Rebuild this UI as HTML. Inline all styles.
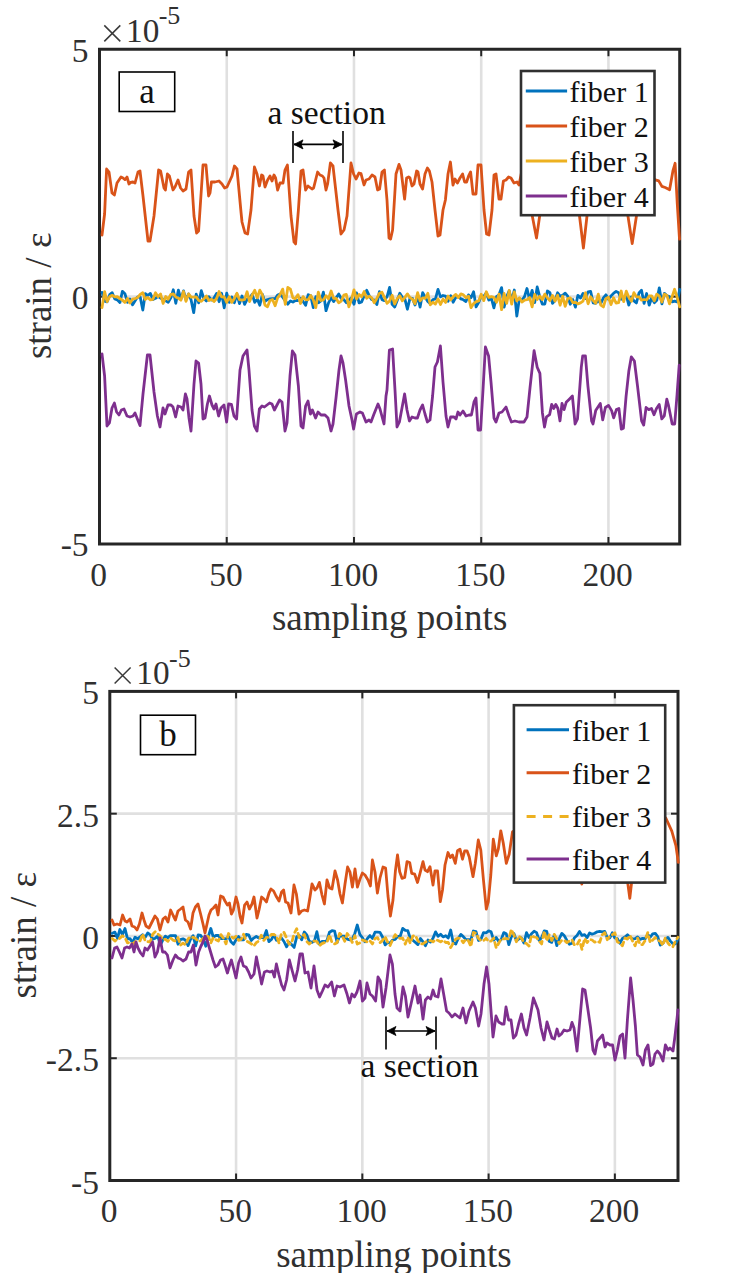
<!DOCTYPE html>
<html><head><meta charset="utf-8"><style>
html,body{margin:0;padding:0;background:#fff;width:750px;height:1273px;overflow:hidden}
svg{display:block}

text{font-family:"Liberation Serif",serif}
</style></head><body><div id="w">
<svg width="750" height="1273" viewBox="0 0 750 1273">
<rect width="750" height="1273" fill="#fff"/>
<line x1="226.74" y1="49.25" x2="226.74" y2="544.0" stroke="#e0e0e0" stroke-width="2.6"/>
<line x1="353.97" y1="49.25" x2="353.97" y2="544.0" stroke="#e0e0e0" stroke-width="2.6"/>
<line x1="481.21" y1="49.25" x2="481.21" y2="544.0" stroke="#e0e0e0" stroke-width="2.6"/>
<line x1="608.45" y1="49.25" x2="608.45" y2="544.0" stroke="#e0e0e0" stroke-width="2.6"/>
<line x1="99.5" y1="296.62" x2="679.7" y2="296.62" stroke="#e0e0e0" stroke-width="2.6"/>
<line x1="226.74" y1="544.0" x2="226.74" y2="537.0" stroke="#262626" stroke-width="2"/>
<line x1="226.74" y1="49.25" x2="226.74" y2="56.25" stroke="#262626" stroke-width="2"/>
<line x1="353.97" y1="544.0" x2="353.97" y2="537.0" stroke="#262626" stroke-width="2"/>
<line x1="353.97" y1="49.25" x2="353.97" y2="56.25" stroke="#262626" stroke-width="2"/>
<line x1="481.21" y1="544.0" x2="481.21" y2="537.0" stroke="#262626" stroke-width="2"/>
<line x1="481.21" y1="49.25" x2="481.21" y2="56.25" stroke="#262626" stroke-width="2"/>
<line x1="608.45" y1="544.0" x2="608.45" y2="537.0" stroke="#262626" stroke-width="2"/>
<line x1="608.45" y1="49.25" x2="608.45" y2="56.25" stroke="#262626" stroke-width="2"/>
<line x1="99.5" y1="296.62" x2="106.5" y2="296.62" stroke="#262626" stroke-width="2"/>
<line x1="679.7" y1="296.62" x2="672.7" y2="296.62" stroke="#262626" stroke-width="2"/>
<rect x="99.5" y="49.25" width="580.20" height="494.75" fill="none" stroke="#262626" stroke-width="3"/>
<polyline points="102.0,292.4 104.6,301.1 107.1,301.8 109.7,294.7 112.2,292.7 114.8,299.0 117.3,299.9 119.9,302.6 122.4,291.3 124.9,293.7 127.5,302.3 130.0,299.1 132.6,304.8 135.1,300.8 137.7,296.8 140.2,297.0 142.8,310.1 145.3,293.7 147.8,295.5 150.4,293.4 152.9,299.6 155.5,298.3 158.0,296.3 160.6,298.1 163.1,299.2 165.7,300.9 168.2,302.3 170.8,297.9 173.3,289.8 175.8,303.3 178.4,290.1 180.9,299.2 183.5,290.9 186.0,299.8 188.6,294.0 191.1,300.0 193.7,312.7 196.2,294.1 198.7,302.8 201.3,290.7 203.8,298.5 206.4,300.9 208.9,296.8 211.5,300.0 214.0,298.0 216.6,293.4 219.1,301.7 221.6,293.3 224.2,307.8 226.7,293.2 229.3,302.3 231.8,296.9 234.4,302.7 236.9,294.1 239.5,303.6 242.0,296.0 244.6,304.3 247.1,299.3 249.6,298.3 252.2,294.3 254.7,302.4 257.3,299.0 259.8,305.3 262.4,294.4 264.9,301.4 267.5,299.5 270.0,298.9 272.5,298.7 275.1,298.7 277.6,295.1 280.2,294.1 282.7,297.2 285.3,300.9 287.8,304.2 290.4,300.9 292.9,302.1 295.4,300.5 298.0,300.6 300.5,298.2 303.1,301.5 305.6,305.3 308.2,294.7 310.7,295.6 313.3,307.6 315.8,296.7 318.3,302.8 320.9,300.8 323.4,292.1 326.0,310.7 328.5,303.0 331.1,297.6 333.6,301.6 336.2,297.7 338.7,294.0 341.2,298.5 343.8,299.6 346.3,302.7 348.9,300.1 351.4,297.8 354.0,304.3 356.5,292.9 359.1,302.9 361.6,301.9 364.2,295.7 366.7,290.3 369.2,295.7 371.8,299.7 374.3,300.0 376.9,304.6 379.4,291.7 382.0,299.6 384.5,300.6 387.1,296.6 389.6,287.4 392.1,304.3 394.7,307.0 397.2,300.4 399.8,293.2 402.3,297.3 404.9,299.2 407.4,309.2 410.0,298.1 412.5,298.5 415.0,305.0 417.6,295.9 420.1,307.1 422.7,292.6 425.2,297.2 427.8,301.5 430.3,303.7 432.9,299.6 435.4,299.0 438.0,289.4 440.5,296.9 443.0,295.5 445.6,296.2 448.1,301.2 450.7,295.7 453.2,302.2 455.8,297.3 458.3,296.6 460.9,298.9 463.4,299.8 465.9,301.5 468.5,294.9 471.0,297.7 473.6,291.8 476.1,306.9 478.7,302.4 481.2,296.1 483.8,296.3 486.3,292.7 488.8,300.1 491.4,298.4 493.9,307.9 496.5,296.7 499.0,294.8 501.6,287.6 504.1,307.1 506.7,296.6 509.2,290.9 511.7,300.6 514.3,290.0 516.8,316.0 519.4,298.6 521.9,300.5 524.5,296.6 527.0,288.5 529.6,299.8 532.1,290.4 534.7,302.6 537.2,287.0 539.7,296.6 542.3,304.0 544.8,304.1 547.4,291.0 549.9,292.7 552.5,303.4 555.0,300.6 557.6,292.8 560.1,296.1 562.6,295.3 565.2,293.2 567.7,296.1 570.3,304.2 572.8,299.6 575.4,307.1 577.9,295.3 580.5,298.0 583.0,293.5 585.5,298.6 588.1,291.8 590.6,291.4 593.2,302.9 595.7,303.4 598.3,300.5 600.8,303.5 603.4,297.8 605.9,294.8 608.4,299.2 611.0,296.0 613.5,293.4 616.1,291.4 618.6,292.8 621.2,299.3 623.7,298.4 626.3,295.7 628.8,305.1 631.4,297.0 633.9,300.9 636.4,302.9 639.0,293.0 641.5,290.2 644.1,303.4 646.6,293.5 649.2,305.2 651.7,297.8 654.3,302.7 656.8,300.3 659.3,287.8 661.9,303.8 664.4,293.4 667.0,295.7 669.5,296.6 672.1,301.9 674.6,301.1 677.2,301.9 679.7,289.4" fill="none" stroke="#0072BD" stroke-width="2.8" stroke-linejoin="round" stroke-linecap="round"/>
<polyline points="102.0,307.6 104.6,291.6 107.1,301.6 109.7,296.6 112.2,295.3 114.8,296.9 117.3,296.7 119.9,298.5 122.4,300.1 124.9,302.4 127.5,298.4 130.0,303.1 132.6,299.1 135.1,298.6 137.7,297.4 140.2,294.5 142.8,292.7 145.3,299.4 147.8,297.4 150.4,299.9 152.9,299.3 155.5,292.8 158.0,296.7 160.6,294.0 163.1,303.5 165.7,296.5 168.2,299.2 170.8,294.3 173.3,294.0 175.8,296.9 178.4,298.2 180.9,300.2 183.5,291.5 186.0,301.3 188.6,293.9 191.1,297.2 193.7,297.2 196.2,296.8 198.7,300.5 201.3,301.3 203.8,298.9 206.4,295.9 208.9,300.6 211.5,299.2 214.0,301.6 216.6,298.5 219.1,291.5 221.6,296.8 224.2,297.0 226.7,302.4 229.3,296.7 231.8,302.4 234.4,298.4 236.9,293.3 239.5,299.7 242.0,300.2 244.6,299.5 247.1,291.8 249.6,301.6 252.2,295.0 254.7,290.3 257.3,297.9 259.8,290.2 262.4,295.0 264.9,305.0 267.5,306.8 270.0,300.5 272.5,299.5 275.1,305.8 277.6,297.8 280.2,294.3 282.7,289.1 285.3,304.3 287.8,287.4 290.4,289.1 292.9,297.8 295.4,298.6 298.0,294.6 300.5,303.5 303.1,296.6 305.6,299.6 308.2,299.8 310.7,295.5 313.3,299.9 315.8,307.6 318.3,292.1 320.9,300.5 323.4,299.9 326.0,295.6 328.5,298.8 331.1,291.0 333.6,298.3 336.2,298.5 338.7,302.9 341.2,301.1 343.8,295.2 346.3,294.4 348.9,306.9 351.4,299.9 354.0,289.9 356.5,299.0 359.1,294.4 361.6,296.8 364.2,291.5 366.7,298.3 369.2,296.2 371.8,297.9 374.3,302.8 376.9,298.2 379.4,293.3 382.0,292.3 384.5,297.6 387.1,303.3 389.6,301.0 392.1,295.2 394.7,304.0 397.2,298.7 399.8,295.7 402.3,300.8 404.9,297.4 407.4,293.9 410.0,297.7 412.5,299.2 415.0,303.7 417.6,292.7 420.1,300.8 422.7,297.9 425.2,298.3 427.8,293.3 430.3,304.9 432.9,302.2 435.4,304.1 438.0,298.9 440.5,304.5 443.0,299.1 445.6,302.4 448.1,296.0 450.7,299.9 453.2,296.6 455.8,294.4 458.3,297.6 460.9,293.9 463.4,294.8 465.9,297.7 468.5,296.1 471.0,307.7 473.6,303.6 476.1,301.7 478.7,300.9 481.2,294.2 483.8,300.6 486.3,291.8 488.8,297.4 491.4,296.6 493.9,297.3 496.5,302.3 499.0,294.1 501.6,309.7 504.1,293.5 506.7,303.3 509.2,290.5 511.7,304.2 514.3,291.8 516.8,300.9 519.4,297.8 521.9,302.1 524.5,300.1 527.0,299.7 529.6,297.5 532.1,306.9 534.7,294.4 537.2,299.5 539.7,296.2 542.3,299.6 544.8,294.1 547.4,297.8 549.9,300.7 552.5,295.4 555.0,301.1 557.6,295.3 560.1,305.2 562.6,296.2 565.2,306.4 567.7,298.5 570.3,297.9 572.8,302.6 575.4,302.3 577.9,303.9 580.5,302.9 583.0,301.1 585.5,292.8 588.1,303.8 590.6,296.7 593.2,300.6 595.7,303.3 598.3,294.2 600.8,305.1 603.4,306.9 605.9,298.7 608.4,297.1 611.0,304.6 613.5,297.7 616.1,303.1 618.6,302.6 621.2,291.0 623.7,301.7 626.3,291.2 628.8,297.3 631.4,301.3 633.9,292.7 636.4,296.8 639.0,296.9 641.5,300.1 644.1,299.5 646.6,300.0 649.2,295.9 651.7,295.9 654.3,300.8 656.8,294.1 659.3,296.0 661.9,302.0 664.4,294.2 667.0,295.6 669.5,303.9 672.1,296.8 674.6,289.3 677.2,297.5 679.7,306.9" fill="none" stroke="#EDB120" stroke-width="2.8" stroke-linejoin="round" stroke-linecap="round"/>
<polyline points="102.0,235.0 104.6,214.0 106.6,169.0 109.0,172.0 112.0,193.0 114.4,195.0 117.0,183.0 119.0,180.0 121.0,177.0 123.0,178.0 125.0,179.6 127.0,177.0 129.0,184.0 130.6,182.4 133.0,182.0 135.0,183.0 138.0,172.0 140.0,171.0 143.0,196.0 148.0,241.0 150.0,241.0 154.0,216.0 158.6,170.0 160.6,171.0 164.0,188.0 165.4,190.0 167.4,174.0 169.4,176.0 173.0,190.0 175.0,187.0 178.0,180.0 180.6,188.0 183.0,191.0 186.0,189.0 188.6,172.0 191.0,170.0 194.0,216.0 196.6,233.0 198.6,231.0 203.0,165.0 206.0,165.0 208.6,196.0 210.0,193.0 211.4,182.0 215.0,182.0 219.0,181.0 222.0,184.0 224.6,188.0 227.0,187.0 232.0,176.0 234.4,166.0 237.0,169.0 241.0,212.0 242.0,222.0 245.0,233.0 247.6,234.0 251.0,210.0 254.4,167.0 257.0,174.0 259.4,186.0 261.6,175.0 263.0,176.0 265.0,187.0 267.6,180.0 270.0,176.0 272.0,181.0 274.0,175.0 275.6,178.0 277.6,190.0 280.0,183.0 283.0,183.0 285.0,170.0 287.4,165.0 291.0,216.0 294.0,242.0 295.6,244.0 298.4,210.0 301.0,171.0 303.0,170.0 305.6,190.0 308.0,186.0 312.0,189.0 313.6,188.0 317.6,172.0 320.0,175.0 322.4,176.0 324.0,178.0 326.0,190.0 327.6,184.0 330.4,163.0 333.0,166.0 338.0,210.0 341.0,234.0 344.0,230.0 347.0,216.0 351.0,163.0 353.6,174.0 356.0,179.0 359.0,173.0 361.0,173.6 364.0,185.0 366.0,180.0 369.0,179.0 372.0,175.0 375.0,177.0 377.6,190.0 379.6,189.0 382.0,172.0 384.4,170.0 387.0,200.0 389.0,238.0 390.6,239.0 392.6,230.0 396.0,174.0 399.0,164.4 401.0,170.0 404.6,199.0 406.6,178.0 408.6,177.0 410.0,178.0 412.0,186.0 414.0,184.0 416.6,171.0 418.0,172.0 420.0,184.0 422.6,189.0 425.0,174.0 427.4,168.0 429.4,171.0 432.0,182.0 435.0,210.0 438.0,236.0 440.0,235.0 443.0,210.0 445.4,200.0 448.0,174.0 450.4,162.0 453.0,185.0 455.0,179.0 457.4,183.0 460.0,178.0 462.6,174.0 464.6,182.0 466.6,182.0 468.6,176.0 470.6,172.0 473.0,194.0 476.0,194.0 478.0,165.0 481.0,165.0 484.0,210.0 486.6,234.0 489.0,235.0 492.0,210.0 494.0,175.0 496.0,174.0 499.0,199.0 501.0,199.0 503.4,181.0 506.0,180.0 508.6,177.0 511.0,178.0 514.0,183.0 517.0,182.0 519.0,185.0 524.0,160.0 528.0,170.0 532.1,215.0 536.5,238.1 539.8,215.0 545.0,165.0 552.0,160.0 560.0,168.0 568.0,158.0 575.0,165.0 579.4,215.0 583.4,248.0 587.1,215.0 592.0,165.0 600.0,160.0 608.0,168.0 616.0,160.0 623.0,165.0 627.8,215.0 632.2,243.6 636.6,215.0 642.0,170.0 648.0,175.0 655.3,179.8 658.7,180.9 661.9,186.4 665.2,187.5 669.6,189.7 672.9,171.0 675.1,163.3 677.3,204.0 679.5,239.2" fill="none" stroke="#D95319" stroke-width="2.8" stroke-linejoin="round" stroke-linecap="round"/>
<polyline points="102.0,354.0 104.6,376.0 107.0,426.0 109.4,423.0 112.0,408.0 114.4,403.0 116.6,412.0 119.0,415.0 121.4,410.0 124.0,409.0 127.0,416.0 130.0,417.0 133.0,416.0 135.0,413.0 137.4,419.0 140.0,425.6 143.0,394.0 147.4,355.0 150.0,355.0 154.0,392.0 157.4,416.0 160.0,427.0 163.0,408.0 165.0,414.0 168.0,405.0 171.0,405.0 173.0,407.0 175.6,417.0 178.0,406.0 181.0,407.0 183.0,410.0 185.4,394.0 187.0,399.0 189.0,418.0 191.0,431.0 194.0,384.0 196.0,361.0 198.6,363.0 201.0,384.0 203.0,419.0 205.0,418.0 207.4,404.0 209.4,396.0 212.0,405.0 214.0,409.0 216.0,404.0 218.6,416.0 221.0,408.0 224.0,405.0 226.6,422.0 228.6,404.0 231.4,404.4 234.0,416.0 236.6,419.0 240.0,370.0 243.0,356.0 247.0,350.0 249.0,370.0 252.0,410.0 254.4,426.0 257.0,431.0 259.4,409.0 262.0,406.0 264.4,407.0 267.0,405.0 269.6,403.0 272.0,404.0 274.4,410.0 277.0,405.0 279.6,400.0 282.0,402.0 285.0,431.0 287.0,423.0 290.0,376.0 292.4,351.0 295.0,355.0 298.4,386.0 301.0,426.0 303.0,428.0 305.6,406.0 308.0,401.0 310.4,414.0 312.4,410.0 315.6,418.0 318.0,412.0 321.0,415.0 325.0,415.0 328.0,418.0 331.0,431.0 333.0,424.0 336.0,398.0 339.0,370.0 341.0,356.0 343.0,363.0 345.6,380.0 349.0,406.0 352.0,420.0 353.6,429.0 356.4,414.0 360.0,412.0 362.4,413.0 366.0,422.0 369.0,420.0 371.0,422.0 374.0,414.0 378.0,404.0 380.0,409.0 384.0,424.0 386.0,396.0 387.0,390.0 389.4,350.0 392.6,349.0 395.0,390.0 397.0,427.0 399.4,422.0 402.0,408.0 404.6,394.0 407.0,410.0 409.4,421.0 412.0,417.0 415.0,418.0 417.4,418.0 420.0,410.0 422.6,405.0 425.0,414.0 427.4,422.0 430.0,420.0 432.6,396.0 435.0,367.0 437.4,362.0 440.4,346.0 443.0,382.0 446.0,416.0 448.0,427.0 450.6,417.0 454.0,417.0 456.0,419.0 458.0,412.0 460.0,415.0 463.0,411.0 466.0,416.0 469.0,415.0 471.4,415.0 474.0,402.0 476.0,398.0 478.0,430.0 480.6,430.0 483.0,390.0 485.4,347.0 488.6,356.0 491.0,382.0 494.0,418.0 496.0,422.0 499.0,413.0 502.0,412.0 506.0,407.0 509.0,416.0 511.4,422.0 515.0,421.0 519.0,422.0 524.0,422.0 527.0,417.0 530.0,387.9 534.1,350.7 537.2,367.2 539.9,373.4 542.4,412.7 544.5,427.1 546.5,416.8 549.6,414.7 551.7,404.4 553.8,408.5 555.8,404.4 557.9,408.5 560.0,420.9 562.0,403.4 564.1,409.6 566.2,402.3 569.3,399.2 572.4,396.1 575.1,424.0 577.5,418.9 581.3,367.2 582.7,355.8 585.4,355.8 587.9,385.8 591.6,420.9 593.0,424.0 595.7,410.6 600.3,403.4 602.7,419.9 605.4,407.5 608.5,405.4 611.6,410.6 613.7,417.8 616.4,409.6 618.9,408.5 621.3,429.2 623.4,428.2 626.1,396.1 628.8,371.3 631.3,356.9 634.4,361.0 637.5,385.8 641.6,420.9 643.7,425.1 646.1,407.5 648.8,409.6 651.5,408.5 654.0,414.7 656.5,408.5 659.2,404.4 661.8,418.9 664.3,415.8 666.8,399.2 668.5,405.4 672.2,424.0 674.7,424.0 677.1,394.1 679.2,365.1" fill="none" stroke="#7E2F8E" stroke-width="2.8" stroke-linejoin="round" stroke-linecap="round"/>
<line x1="236.07" y1="691.4" x2="236.07" y2="1180.5" stroke="#e0e0e0" stroke-width="2.6"/>
<line x1="362.33" y1="691.4" x2="362.33" y2="1180.5" stroke="#e0e0e0" stroke-width="2.6"/>
<line x1="488.60" y1="691.4" x2="488.60" y2="1180.5" stroke="#e0e0e0" stroke-width="2.6"/>
<line x1="614.87" y1="691.4" x2="614.87" y2="1180.5" stroke="#e0e0e0" stroke-width="2.6"/>
<line x1="109.8" y1="1058.22" x2="678.0" y2="1058.22" stroke="#e0e0e0" stroke-width="2.6"/>
<line x1="109.8" y1="935.95" x2="678.0" y2="935.95" stroke="#e0e0e0" stroke-width="2.6"/>
<line x1="109.8" y1="813.67" x2="678.0" y2="813.67" stroke="#e0e0e0" stroke-width="2.6"/>
<line x1="236.07" y1="1180.5" x2="236.07" y2="1173.5" stroke="#262626" stroke-width="2"/>
<line x1="236.07" y1="691.4" x2="236.07" y2="698.4" stroke="#262626" stroke-width="2"/>
<line x1="362.33" y1="1180.5" x2="362.33" y2="1173.5" stroke="#262626" stroke-width="2"/>
<line x1="362.33" y1="691.4" x2="362.33" y2="698.4" stroke="#262626" stroke-width="2"/>
<line x1="488.60" y1="1180.5" x2="488.60" y2="1173.5" stroke="#262626" stroke-width="2"/>
<line x1="488.60" y1="691.4" x2="488.60" y2="698.4" stroke="#262626" stroke-width="2"/>
<line x1="614.87" y1="1180.5" x2="614.87" y2="1173.5" stroke="#262626" stroke-width="2"/>
<line x1="614.87" y1="691.4" x2="614.87" y2="698.4" stroke="#262626" stroke-width="2"/>
<line x1="109.8" y1="1058.22" x2="116.8" y2="1058.22" stroke="#262626" stroke-width="2"/>
<line x1="678.0" y1="1058.22" x2="671.0" y2="1058.22" stroke="#262626" stroke-width="2"/>
<line x1="109.8" y1="935.95" x2="116.8" y2="935.95" stroke="#262626" stroke-width="2"/>
<line x1="678.0" y1="935.95" x2="671.0" y2="935.95" stroke="#262626" stroke-width="2"/>
<line x1="109.8" y1="813.67" x2="116.8" y2="813.67" stroke="#262626" stroke-width="2"/>
<line x1="678.0" y1="813.67" x2="671.0" y2="813.67" stroke="#262626" stroke-width="2"/>
<rect x="109.8" y="691.4" width="568.20" height="489.10" fill="none" stroke="#262626" stroke-width="3"/>
<polyline points="112.3,933.3 114.9,932.1 117.4,938.3 119.9,929.5 122.4,934.6 125.0,928.5 127.5,938.8 130.0,938.6 132.5,942.7 135.1,937.2 137.6,938.9 140.1,936.9 142.6,934.7 145.2,937.2 147.7,932.9 150.2,934.8 152.7,939.2 155.3,938.2 157.8,936.2 160.3,945.0 162.8,940.0 165.4,936.1 167.9,937.7 170.4,935.7 172.9,935.6 175.5,935.7 178.0,944.2 180.5,939.6 183.0,938.8 185.6,940.3 188.1,945.6 190.6,939.1 193.1,935.7 195.7,945.9 198.2,934.8 200.7,935.4 203.2,939.3 205.8,946.2 208.3,936.7 210.8,928.5 213.3,937.2 215.9,935.5 218.4,935.5 220.9,938.6 223.4,938.6 226.0,938.9 228.5,936.4 231.0,941.8 233.5,944.2 236.1,939.6 238.6,936.5 241.1,939.8 243.6,939.9 246.2,934.5 248.7,934.9 251.2,940.5 253.7,938.1 256.3,936.5 258.8,938.0 261.3,937.5 263.8,937.5 266.4,930.5 268.9,941.7 271.4,939.5 273.9,934.9 276.5,940.3 279.0,939.4 281.5,938.1 284.0,941.5 286.6,946.8 289.1,942.3 291.6,944.6 294.1,947.4 296.7,936.8 299.2,935.4 301.7,939.7 304.3,932.0 306.8,934.9 309.3,941.4 311.8,942.4 314.4,941.1 316.9,931.7 319.4,944.2 321.9,941.5 324.5,941.5 327.0,940.5 329.5,932.2 332.0,930.7 334.6,931.1 337.1,942.5 339.6,936.0 342.1,936.2 344.7,936.2 347.2,939.2 349.7,939.8 352.2,939.2 354.8,933.5 357.3,925.0 359.8,934.3 362.3,937.5 364.9,941.9 367.4,938.5 369.9,935.6 372.4,938.4 375.0,932.2 377.5,932.2 380.0,932.3 382.5,937.0 385.1,944.9 387.6,942.5 390.1,943.1 392.6,940.0 395.2,939.3 397.7,936.4 400.2,936.2 402.7,928.4 405.3,930.4 407.8,930.7 410.3,938.5 412.8,940.2 415.4,942.4 417.9,944.6 420.4,938.5 422.9,941.6 425.5,945.8 428.0,940.0 430.5,942.1 433.0,938.3 435.6,931.9 438.1,936.3 440.6,934.2 443.1,936.9 445.7,935.7 448.2,938.1 450.7,930.0 453.2,942.7 455.8,944.0 458.3,938.2 460.8,934.4 463.3,936.6 465.9,939.7 468.4,939.7 470.9,939.6 473.4,931.0 476.0,931.5 478.5,940.5 481.0,939.3 483.5,932.6 486.1,932.9 488.6,930.9 491.1,931.8 493.7,940.1 496.2,937.5 498.7,941.6 501.2,939.4 503.8,932.6 506.3,933.7 508.8,944.7 511.3,936.9 513.9,933.5 516.4,940.8 518.9,938.8 521.4,937.9 524.0,943.0 526.5,932.7 529.0,937.6 531.5,933.7 534.1,931.2 536.6,932.6 539.1,940.3 541.6,937.8 544.2,930.9 546.7,931.4 549.2,941.3 551.7,942.4 554.3,935.0 556.8,945.7 559.3,938.6 561.8,933.4 564.4,935.8 566.9,940.4 569.4,944.3 571.9,943.3 574.5,937.7 577.0,935.5 579.5,931.5 582.0,935.4 584.6,934.7 587.1,937.6 589.6,932.9 592.1,934.2 594.7,933.3 597.2,931.8 599.7,931.4 602.2,931.9 604.8,931.5 607.3,937.8 609.8,938.0 612.3,932.8 614.9,938.0 617.4,938.7 619.9,943.2 622.4,938.5 625.0,937.0 627.5,934.8 630.0,937.2 632.5,939.2 635.1,938.7 637.6,936.9 640.1,939.4 642.6,938.4 645.2,938.7 647.7,934.4 650.2,937.3 652.7,933.8 655.3,933.3 657.8,936.8 660.3,945.1 662.8,943.4 665.4,939.3 667.9,937.4 670.4,941.1 672.9,943.7 675.5,943.8 678.0,938.7" fill="none" stroke="#0072BD" stroke-width="2.8" stroke-linejoin="round" stroke-linecap="round"/>
<polyline points="112.3,938.6 114.9,941.1 117.4,939.2 119.9,938.3 122.4,935.8 125.0,937.6 127.5,942.9 130.0,942.1 132.5,944.0 135.1,941.7 137.6,941.6 140.1,940.8 142.6,933.9 145.2,940.9 147.7,941.7 150.2,942.0 152.7,934.2 155.3,931.6 157.8,933.9 160.3,936.1 162.8,939.6 165.4,939.4 167.9,941.3 170.4,937.7 172.9,940.1 175.5,941.1 178.0,937.6 180.5,945.1 183.0,943.2 185.6,944.9 188.1,938.9 190.6,936.7 193.1,937.4 195.7,938.5 198.2,941.5 200.7,941.0 203.2,938.3 205.8,935.7 208.3,936.5 210.8,943.0 213.3,937.6 215.9,939.8 218.4,941.1 220.9,934.6 223.4,938.2 226.0,943.8 228.5,933.5 231.0,936.6 233.5,938.2 236.1,936.2 238.6,940.3 241.1,939.5 243.6,934.2 246.2,940.9 248.7,942.3 251.2,943.8 253.7,946.0 256.3,942.7 258.8,940.9 261.3,935.2 263.8,940.4 266.4,937.6 268.9,937.3 271.4,934.3 273.9,934.5 276.5,936.1 279.0,943.1 281.5,933.3 284.0,932.4 286.6,938.2 289.1,944.3 291.6,943.0 294.1,933.7 296.7,928.7 299.2,937.5 301.7,936.3 304.3,934.5 306.8,941.5 309.3,944.1 311.8,941.4 314.4,941.0 316.9,941.5 319.4,945.8 321.9,943.6 324.5,942.6 327.0,942.4 329.5,934.7 332.0,942.7 334.6,943.9 337.1,942.7 339.6,933.4 342.1,935.4 344.7,941.3 347.2,933.5 349.7,937.0 352.2,942.4 354.8,935.7 357.3,944.1 359.8,942.9 362.3,940.0 364.9,940.8 367.4,942.2 369.9,940.8 372.4,944.0 375.0,938.5 377.5,937.7 380.0,942.7 382.5,940.6 385.1,936.6 387.6,942.1 390.1,945.5 392.6,939.7 395.2,934.6 397.7,937.5 400.2,938.4 402.7,938.1 405.3,944.1 407.8,937.2 410.3,943.3 412.8,936.1 415.4,935.6 417.9,940.6 420.4,943.9 422.9,943.9 425.5,942.1 428.0,940.8 430.5,940.4 433.0,941.9 435.6,939.6 438.1,940.5 440.6,941.9 443.1,940.2 445.7,942.5 448.2,942.4 450.7,947.6 453.2,943.1 455.8,939.0 458.3,938.0 460.8,939.0 463.3,942.7 465.9,939.2 468.4,940.8 470.9,946.5 473.4,932.4 476.0,933.3 478.5,938.5 481.0,940.6 483.5,940.7 486.1,938.3 488.6,941.5 491.1,941.1 493.7,938.1 496.2,947.8 498.7,943.3 501.2,938.6 503.8,938.9 506.3,938.5 508.8,939.0 511.3,929.5 513.9,934.8 516.4,941.7 518.9,936.0 521.4,938.2 524.0,942.5 526.5,943.5 529.0,946.1 531.5,935.3 534.1,937.0 536.6,937.5 539.1,941.1 541.6,943.9 544.2,931.2 546.7,940.9 549.2,934.7 551.7,940.5 554.3,934.4 556.8,938.6 559.3,943.5 561.8,940.2 564.4,940.4 566.9,942.6 569.4,940.9 571.9,939.6 574.5,945.1 577.0,944.9 579.5,940.1 582.0,949.6 584.6,938.4 587.1,942.5 589.6,939.4 592.1,940.0 594.7,942.2 597.2,941.1 599.7,942.3 602.2,934.8 604.8,932.7 607.3,939.7 609.8,936.1 612.3,934.8 614.9,932.8 617.4,942.0 619.9,943.0 622.4,945.8 625.0,938.0 627.5,939.1 630.0,935.3 632.5,941.0 635.1,945.7 637.6,938.1 640.1,944.7 642.6,944.6 645.2,940.4 647.7,932.7 650.2,942.5 652.7,940.1 655.3,937.5 657.8,940.3 660.3,941.2 662.8,945.4 665.4,937.6 667.9,943.0 670.4,945.9 672.9,946.7 675.5,941.0 678.0,937.3" fill="none" stroke="#EDB120" stroke-width="2.8" stroke-linejoin="round" stroke-linecap="round" stroke-dasharray="5,4"/>
<polyline points="112.0,920.0 114.0,925.0 117.0,924.0 120.0,925.0 122.6,915.0 125.0,921.0 127.0,922.0 130.0,919.0 132.0,926.0 134.6,927.0 137.0,930.0 139.4,924.0 142.0,913.0 144.0,920.0 146.0,926.0 149.0,928.0 152.0,922.0 155.0,916.0 157.4,919.0 160.0,930.0 163.0,919.0 165.4,917.0 168.0,922.0 170.6,910.0 173.4,916.0 175.4,920.0 178.0,911.0 180.6,909.0 183.0,907.0 185.4,920.0 188.0,922.0 190.6,929.0 193.0,913.0 195.4,907.0 198.0,904.0 200.6,914.0 203.0,924.0 205.0,933.0 207.0,924.0 209.0,915.0 211.0,910.0 213.4,908.0 216.0,905.0 218.0,915.0 220.6,896.0 223.0,897.0 225.0,901.0 227.4,905.0 229.4,903.0 231.4,914.0 233.4,910.0 236.0,897.0 238.0,904.0 240.0,916.0 242.0,923.0 244.6,905.0 247.0,902.0 249.4,909.0 252.0,904.0 254.0,897.0 257.0,918.0 259.0,910.0 261.6,897.0 264.0,899.0 266.4,902.0 269.0,893.0 271.0,889.0 273.6,891.0 276.0,896.0 279.0,901.0 281.6,892.0 283.6,890.0 285.6,902.0 288.0,903.0 291.0,913.0 294.0,885.0 296.4,894.0 299.0,914.0 301.6,911.0 304.4,910.0 307.6,911.0 310.0,897.0 312.0,884.0 315.0,890.0 317.0,888.0 319.4,882.4 322.0,895.0 324.4,904.0 327.0,880.0 329.6,888.0 332.0,889.0 335.0,871.0 337.6,880.0 340.0,894.0 342.4,903.0 345.0,884.0 347.6,867.0 350.0,872.0 352.4,887.0 355.0,869.0 357.4,887.0 360.0,879.0 362.4,873.0 365.0,875.0 368.0,880.0 370.4,886.0 372.4,860.0 375.0,872.0 377.4,893.0 380.0,878.0 383.0,867.0 385.6,868.0 388.0,896.0 390.4,916.0 393.0,900.0 395.4,871.0 397.5,855.0 399.7,871.7 402.0,878.3 404.7,877.5 407.0,861.7 409.7,862.5 411.7,873.3 414.7,874.2 417.5,882.5 420.0,873.3 423.0,861.7 425.0,870.0 427.5,871.7 430.0,866.7 433.0,885.0 435.0,870.8 437.5,870.8 440.3,901.7 442.5,890.0 445.0,865.0 448.0,852.5 450.3,857.5 452.5,855.0 455.3,863.3 457.5,850.8 460.0,849.2 462.5,859.2 464.7,850.8 467.0,850.8 469.2,856.7 473.0,876.7 475.3,863.3 478.3,840.0 480.8,850.0 483.3,878.3 486.3,909.2 488.3,901.7 490.8,875.0 493.3,839.2 496.3,855.8 498.3,849.2 500.8,830.8 503.3,843.3 506.3,863.3 509.2,854.2 512.5,831.7 520.0,828.0 526.0,840.0 532.0,850.0 540.0,835.0 548.0,845.0 556.0,830.0 564.0,850.0 572.0,840.0 578.0,862.0 581.8,884.0 585.0,862.0 592.0,845.0 600.0,838.0 608.0,845.0 615.0,835.0 622.0,850.0 626.0,870.0 629.8,898.4 633.0,870.0 638.0,845.0 645.0,830.0 652.0,840.0 660.0,822.0 665.8,818.0 671.8,831.2 675.9,845.6 678.3,862.4" fill="none" stroke="#D95319" stroke-width="2.8" stroke-linejoin="round" stroke-linecap="round"/>
<polyline points="112.0,958.0 114.6,948.0 117.0,947.0 119.4,952.0 122.0,958.0 124.6,948.0 127.0,947.0 129.4,948.0 132.0,944.0 134.0,952.0 136.0,942.0 138.0,948.0 140.6,953.0 143.0,956.0 145.0,948.0 147.4,950.0 150.0,946.0 152.6,942.0 155.0,957.0 157.4,952.0 160.0,938.0 162.6,952.0 165.0,952.0 167.4,955.0 170.0,968.0 173.0,960.0 175.4,955.0 178.0,958.0 180.6,959.0 183.0,961.0 186.0,959.0 188.6,952.0 191.0,952.0 193.4,945.0 196.0,965.0 198.6,952.0 201.0,946.0 203.0,942.0 205.0,936.0 207.0,940.0 210.0,950.0 213.0,960.0 215.4,967.0 218.0,965.0 220.6,960.0 223.0,959.0 225.0,965.0 227.4,973.0 229.4,966.0 231.4,960.0 234.0,970.0 236.0,978.0 238.6,963.0 241.0,957.0 243.4,966.0 246.0,967.0 248.6,972.0 251.0,978.0 254.0,974.0 256.4,957.0 259.0,970.0 261.6,984.0 264.4,972.0 267.0,971.0 270.0,972.0 272.4,971.0 274.4,977.0 276.4,964.0 279.0,975.0 281.6,985.0 284.0,990.0 286.6,980.0 289.4,960.0 292.0,970.0 295.0,981.0 297.6,970.0 300.0,954.0 302.4,954.0 305.0,973.0 308.0,972.0 311.0,988.0 314.0,966.0 317.0,990.0 319.6,997.0 322.4,991.0 325.0,985.0 328.0,987.0 331.6,982.0 334.4,996.0 337.0,986.0 340.0,987.0 344.0,985.0 347.0,994.0 349.4,1003.0 352.0,994.0 354.4,997.0 357.0,992.0 360.0,981.0 362.4,1001.0 365.0,998.0 367.0,983.0 370.0,994.0 372.4,996.0 375.6,1001.0 378.0,977.0 380.4,981.0 383.0,1007.0 386.0,988.0 390.0,955.0 392.4,964.0 395.0,994.0 397.0,1008.0 400.0,1011.0 403.0,987.0 405.4,996.0 408.0,1017.0 411.0,1004.0 415.0,986.0 418.0,1003.0 420.0,995.0 423.0,1019.0 425.4,1000.0 428.0,997.0 430.6,999.0 433.0,990.0 435.0,996.0 438.0,997.0 441.0,979.0 444.0,996.0 446.6,1011.0 449.0,1013.0 452.0,1017.0 455.0,1014.0 457.4,1016.0 460.0,1018.0 463.0,1008.0 466.0,1023.0 469.0,1011.0 473.0,1002.0 475.4,1008.0 478.6,1026.0 481.0,1014.0 484.0,984.0 486.6,967.0 489.0,984.0 493.0,1037.0 496.0,1016.0 498.6,1022.0 502.0,1024.0 504.0,1024.0 506.0,1007.0 508.6,1020.0 511.0,1020.0 513.4,1038.0 516.0,1035.0 518.6,1024.0 521.4,1014.0 524.0,1028.0 526.6,1035.0 530.0,1018.0 533.4,998.0 538.0,1010.0 541.0,1028.0 544.0,1040.0 547.0,1022.0 549.4,1030.0 552.0,1038.0 554.4,1039.0 557.0,1029.0 559.0,1036.0 561.4,1034.0 564.0,1030.0 567.0,1031.0 570.0,1030.0 572.0,1022.4 574.0,1028.0 577.0,1051.0 580.0,1018.0 582.6,989.0 585.0,990.0 587.4,1006.0 590.6,1028.0 593.0,1050.0 595.0,1054.0 597.4,1041.0 600.0,1038.0 602.6,1035.0 605.0,1047.0 607.0,1043.0 610.0,1045.0 612.6,1045.0 615.0,1060.0 617.4,1050.0 620.0,1036.0 622.6,1034.0 625.0,1058.0 627.4,1020.0 630.6,978.0 633.0,1000.0 635.4,1026.0 637.4,1055.0 640.0,1057.0 643.0,1065.0 645.4,1050.0 648.0,1045.0 650.6,1065.6 653.0,1064.0 655.0,1054.0 657.4,1051.0 660.0,1054.0 663.0,1061.0 665.4,1045.0 668.0,1050.0 670.0,1048.0 673.0,1051.0 675.0,1036.0 678.0,1010.0" fill="none" stroke="#7E2F8E" stroke-width="2.8" stroke-linejoin="round" stroke-linecap="round"/>
<text x="88.60" y="556.40" font-size="33.5" text-anchor="end" fill="#303030">-5</text>
<text x="88.60" y="309.02" font-size="33.5" text-anchor="end" fill="#303030">0</text>
<text x="88.60" y="61.65" font-size="33.5" text-anchor="end" fill="#303030">5</text>
<text x="98.70" y="585.80" font-size="33.5" text-anchor="middle" fill="#303030">0</text>
<text x="225.94" y="585.80" font-size="33.5" text-anchor="middle" fill="#303030">50</text>
<text x="353.17" y="585.80" font-size="33.5" text-anchor="middle" fill="#303030">100</text>
<text x="480.41" y="585.80" font-size="33.5" text-anchor="middle" fill="#303030">150</text>
<text x="607.65" y="585.80" font-size="33.5" text-anchor="middle" fill="#303030">200</text>
<text x="389.60" y="629.60" font-size="37" text-anchor="middle" fill="#303030">sampling points</text>
<text x="0" y="0" font-size="37" text-anchor="middle" fill="#303030" transform="translate(50.50,295.82) rotate(-90)">strain / ε</text>
<path d="M104.30,25.35 l16,16 M120.30,25.35 l-16,16" stroke="#3a3a3a" stroke-width="1.5" fill="none"/>
<text x="126.00" y="42.10" font-size="33.3" text-anchor="start" fill="#303030">10</text>
<text x="158.70" y="24.40" font-size="26" text-anchor="start" fill="#303030">-5</text>
<rect x="119.2" y="72" width="55.499999999999986" height="39.5" fill="#fff" stroke="#000" stroke-width="1.6"/>
<text x="146.95" y="102.70" font-size="35" text-anchor="middle" fill="#111" >a</text>
<rect x="521.0" y="71" width="133.5" height="144.2" fill="#fff" stroke="#303030" stroke-width="2.6"/>
<line x1="525.8" y1="91" x2="567.1" y2="91" stroke="#0072BD" stroke-width="3"/>
<text x="569.50" y="101.60" font-size="30" text-anchor="start" fill="#111" >fiber 1</text>
<line x1="525.8" y1="126" x2="567.1" y2="126" stroke="#D95319" stroke-width="3"/>
<text x="569.50" y="136.60" font-size="30" text-anchor="start" fill="#111" >fiber 2</text>
<line x1="525.8" y1="161" x2="567.1" y2="161" stroke="#EDB120" stroke-width="3"/>
<text x="569.50" y="171.60" font-size="30" text-anchor="start" fill="#111" >fiber 3</text>
<line x1="525.8" y1="196" x2="567.1" y2="196" stroke="#7E2F8E" stroke-width="3"/>
<text x="569.50" y="206.60" font-size="30" text-anchor="start" fill="#111" >fiber 4</text>
<text x="267.50" y="124.00" font-size="33.5" text-anchor="start" fill="#111" >a section</text>
<path d="M293,131 V163 M343,131 V163 M294,144.4 H342" stroke="#000" stroke-width="1.6" fill="none"/>
<path d="M294,144.4 l9,-4.5 l-2,4.5 l2,4.5 z M342,144.4 l-9,-4.5 l2,4.5 l-2,4.5 z" fill="#000" stroke="#000" stroke-width="0.8"/>
<text x="98.90" y="1193.50" font-size="33.5" text-anchor="end" fill="#303030">-5</text>
<text x="98.90" y="1071.22" font-size="33.5" text-anchor="end" fill="#303030">-2.5</text>
<text x="98.90" y="948.95" font-size="33.5" text-anchor="end" fill="#303030">0</text>
<text x="98.90" y="826.67" font-size="33.5" text-anchor="end" fill="#303030">2.5</text>
<text x="98.90" y="704.40" font-size="33.5" text-anchor="end" fill="#303030">5</text>
<text x="109.00" y="1222.00" font-size="33.5" text-anchor="middle" fill="#303030">0</text>
<text x="235.27" y="1222.00" font-size="33.5" text-anchor="middle" fill="#303030">50</text>
<text x="361.53" y="1222.00" font-size="33.5" text-anchor="middle" fill="#303030">100</text>
<text x="487.80" y="1222.00" font-size="33.5" text-anchor="middle" fill="#303030">150</text>
<text x="614.07" y="1222.00" font-size="33.5" text-anchor="middle" fill="#303030">200</text>
<text x="393.90" y="1266.70" font-size="37" text-anchor="middle" fill="#303030">sampling points</text>
<text x="0" y="0" font-size="37" text-anchor="middle" fill="#303030" transform="translate(35.80,935.15) rotate(-90)">strain / ε</text>
<path d="M114.60,667.50 l16,16 M130.60,667.50 l-16,16" stroke="#3a3a3a" stroke-width="1.5" fill="none"/>
<text x="136.30" y="684.25" font-size="33.3" text-anchor="start" fill="#303030">10</text>
<text x="169.00" y="666.55" font-size="26" text-anchor="start" fill="#303030">-5</text>
<rect x="140.5" y="715.2" width="55.0" height="39.5" fill="#fff" stroke="#000" stroke-width="1.6"/>
<text x="168.00" y="745.90" font-size="35" text-anchor="middle" fill="#111" >b</text>
<rect x="513.9" y="705.2" width="151.30000000000007" height="177.39999999999998" fill="#fff" stroke="#303030" stroke-width="2.6"/>
<line x1="526.6" y1="729.7" x2="569.0" y2="729.7" stroke="#0072BD" stroke-width="3"/>
<text x="572.00" y="740.60" font-size="30" text-anchor="start" fill="#111" >fiber 1</text>
<line x1="526.6" y1="772.7" x2="569.0" y2="772.7" stroke="#D95319" stroke-width="3"/>
<text x="572.00" y="783.60" font-size="30" text-anchor="start" fill="#111" >fiber 2</text>
<line x1="526.6" y1="816.4" x2="569.0" y2="816.4" stroke="#EDB120" stroke-width="3" stroke-dasharray="9,7.5"/>
<text x="572.00" y="827.30" font-size="30" text-anchor="start" fill="#111" >fiber 3</text>
<line x1="526.6" y1="858.9" x2="569.0" y2="858.9" stroke="#7E2F8E" stroke-width="3"/>
<text x="572.00" y="869.80" font-size="30" text-anchor="start" fill="#111" >fiber 4</text>
<text x="360.50" y="1077.00" font-size="33.5" text-anchor="start" fill="#111" >a section</text>
<path d="M386,1016.4 V1049.4 M436,1016.4 V1049.4 M387,1031 H435" stroke="#000" stroke-width="1.6" fill="none"/>
<path d="M387,1031 l9,-4.5 l-2,4.5 l2,4.5 z M435,1031 l-9,-4.5 l2,4.5 l-2,4.5 z" fill="#000" stroke="#000" stroke-width="0.8"/>
</svg></div>
</body></html>
